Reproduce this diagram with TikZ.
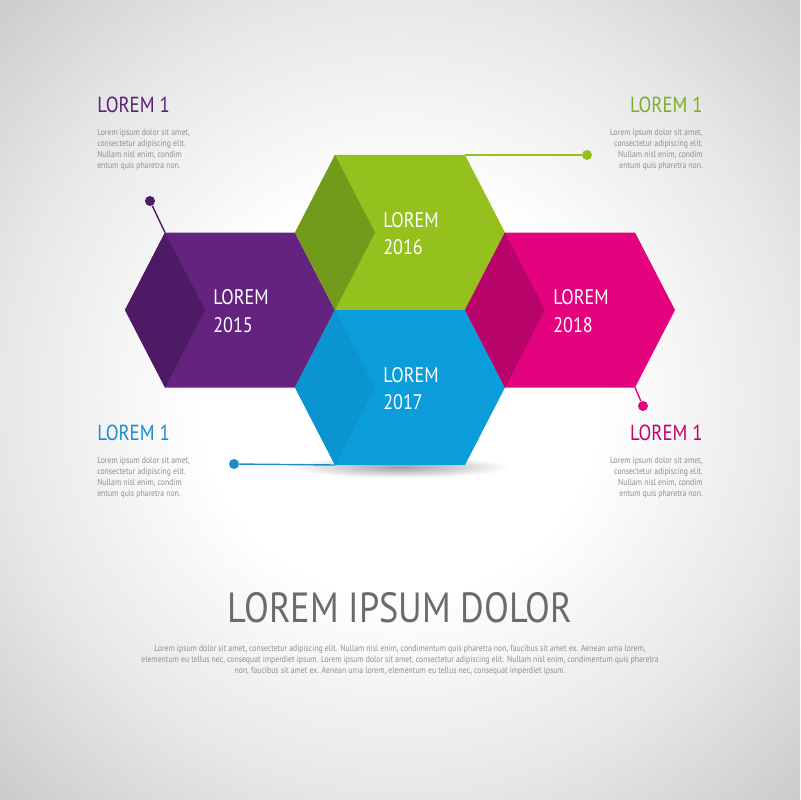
\documentclass[tikz,border=0pt]{standalone}
\usepackage{fontspec}
\setmainfont{PT Sans}[FakeStretch=0.86]
\usetikzlibrary{calc}
\definecolor{clrPurple}  {HTML}{652380}
\definecolor{clrPurpleDk}{HTML}{4E1A66}
\definecolor{clrGreen}   {HTML}{95C11F}
\definecolor{clrGreenDk} {HTML}{739B1B}
\definecolor{clrBlue}    {HTML}{0B9DDA}
\definecolor{clrBlueDk}  {HTML}{0A94D0}
\definecolor{clrPink}    {HTML}{E4037F}
\definecolor{clrPinkDk}  {HTML}{B8036B}
\definecolor{clrPurpleTx}{HTML}{5A1F76}
\definecolor{clrGreenTx} {HTML}{7DAE28}
\definecolor{clrBlueTx}  {HTML}{1A8ECB}
\definecolor{clrPinkTx}  {HTML}{C3006F}
\definecolor{clrHead}    {HTML}{6B6B6B}
\definecolor{clrBody}    {HTML}{8E8E8E}
\definecolor{clrBackMid} {HTML}{E7E7E7}
\definecolor{clrBack}    {HTML}{CBCBCB}
\pgfdeclareradialshading{backshade}{\pgfpointorigin}{%
  color(0bp)=(white); color(142bp)=(white);
  color(283bp)=(clrBackMid); color(404bp)=(clrBack);
  color(410bp)=(clrBack)}

\begin{document}
\begin{tikzpicture}[x=0.025cm, y=-0.025cm,
  head/.style={font=\fontsize{15.5}{18}\selectfont, inner sep=0pt},
  body/.style={font=\fontsize{6.4}{7.8}\selectfont, text=clrBody,
               inner sep=0pt},
  year/.style={font=\fontsize{15}{19.5}\selectfont, text=white,
               align=left, anchor=west, inner sep=0pt},
  dot/.style={circle, fill, inner sep=0pt, minimum size=2.5mm},
  link/.style={line width=1pt},
]
% background
\begin{scope}
  \clip (0,0) rectangle (800,800);
  \node[inner sep=0pt] (back) at (400,395) {\pgfuseshading{backshade}};
\end{scope}
\useasboundingbox (0,0) rectangle (800,800);

% shadow under the lower cell
\shade[inner color=black!38, outer color=white]
  (400,467) ellipse [x radius=110, y radius=11];

% cells
\foreach \n/\cx/\cy/\cm/\cd/\yr in {
    p/230/310/clrPurple/clrPurpleDk/2015,
    g/400/232.5/clrGreen/clrGreenDk/2016,
    b/400/387.5/clrBlue/clrBlueDk/2017,
    k/570/310/clrPink/clrPinkDk/2018}{
  \coordinate (\n-l)  at (\cx-105,\cy);
  \coordinate (\n-tl) at (\cx-65,\cy-77.5);
  \coordinate (\n-tr) at (\cx+65,\cy-77.5);
  \coordinate (\n-r)  at (\cx+105,\cy);
  \coordinate (\n-br) at (\cx+65,\cy+77.5);
  \coordinate (\n-bl) at (\cx-65,\cy+77.5);
  \coordinate (\n-in) at (\cx-25,\cy);
  \fill[\cm] (\n-l) -- (\n-tl) -- (\n-tr) -- (\n-r) -- (\n-br)
    -- (\n-bl) -- cycle;
  \fill[\cd] (\n-l) -- (\n-tl) -- (\n-in) -- (\n-bl) -- cycle;
  \node[year] (\n-txt) at (\cx-17,\cy+1) {LOREM\\\yr};
}

% connectors
\node[dot, clrPurpleDk] (dotP) at (150,201) {};
\draw[link, clrPurpleDk] (dotP) -- (p-tl);
\node[dot, clrGreen] (dotG) at (587,155) {};
\draw[link, clrGreen] (g-tr) -- (dotG);
\node[dot, clrBlueTx] (dotB) at (234,464) {};
\draw[link, clrBlueTx] (b-bl) -- (dotB);
\node[dot, clrPink] (dotK) at (643,406) {};
\draw[link, clrPink] (k-br) -- (dotK);

% side notes
\node[head, text=clrPurpleTx, anchor=base west] (hdP) at (97,113) {LOREM 1};
\node[body, anchor=north west, align=left] (txP) at (97,129)
  {Lorem ipsum dolor sit amet,\\consectetur adipiscing elit.\\
   Nullam nisl enim, condim\\entum quis pharetra non.};
\node[head, text=clrGreenTx, anchor=base east] (hdG) at (703,113) {LOREM 1};
\node[body, anchor=north east, align=right] (txG) at (703,129)
  {Lorem ipsum dolor sit amet,\\consectetur adipiscing elit.\\
   Nullam nisl enim, condim\\entum quis pharetra non.};
\node[head, text=clrBlueTx, anchor=base west] (hdB) at (97,440) {LOREM 1};
\node[body, anchor=north west, align=left] (txB) at (97,457)
  {Lorem ipsum dolor sit amet,\\consectetur adipiscing elit.\\
   Nullam nisl enim, condim\\entum quis pharetra non.};
\node[head, text=clrPinkTx, anchor=base east] (hdK) at (703,440) {LOREM 1};
\node[body, anchor=north east, align=right] (txK) at (703,457)
  {Lorem ipsum dolor sit amet,\\consectetur adipiscing elit.\\
   Nullam nisl enim, condim\\entum quis pharetra non.};

% title
\node[font=\fontsize{30}{36}\selectfont, text=clrHead, anchor=base]
  (title) at (400,622) {LOREM IPSUM DOLOR};
\node[body, align=center, anchor=north] (para) at (400,645)
  {Lorem ipsum dolor sit amet, consectetur adipiscing elit. Nullam nisl enim, condimentum quis pharetra non, faucibus sit amet ex. Aenean urna lorem,\\
   elementum eu tellus nec, consequat imperdiet ipsum. Lorem ipsum dolor sit amet, consectetur adipiscing elit. Nullam nisl enim, condimentum quis pharetra\\
   non, faucibus sit amet ex. Aenean urna lorem, elementum eu tellus nec, consequat imperdiet ipsum.};
\end{tikzpicture}
\end{document}
